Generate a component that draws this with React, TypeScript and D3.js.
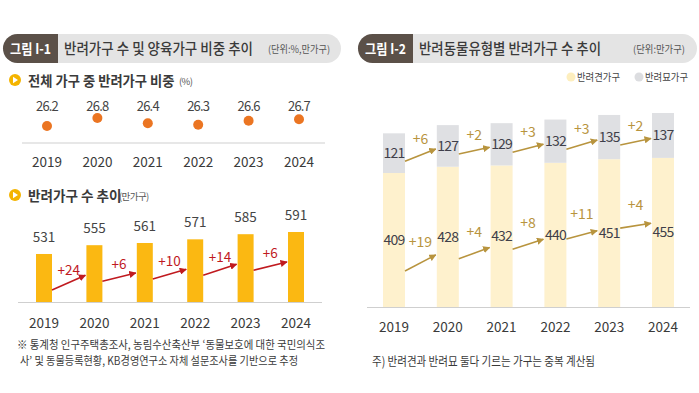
import * as d3 from 'd3';

// Data
const years = ['2019', '2020', '2021', '2022', '2023', '2024'];
const shareValues = [26.2, 26.8, 26.4, 26.3, 26.6, 26.7];
const householdValues = [531, 555, 561, 571, 585, 591];
const dogValues = [409, 428, 432, 440, 451, 455];
const catValues = [121, 127, 129, 132, 135, 137];

const font = "'Noto Sans CJK KR', 'Noto Sans', sans-serif";
const dark = '#5b5048';
const textColor = '#3a3a3a';
const gold = '#b8943e';
const red = '#c01a1f';

const diffs = (arr: number[]) => d3.pairs(arr).map(([a, b]) => '+' + (b - a));

function TitleBar({ x, w, tabW, tag, title, titleLen, unit, unitX, unitLen }: any) {
  const y = 34, h = 29, r = h / 2;
  return (
    <g>
      <rect x={x} y={y} width={w} height={h} rx={r} fill="#e4e4e4" />
      <path d={`M${x + r},${y} H${x + tabW} V${y + h} H${x + r} A${r},${r} 0 0 1 ${x + r},${y} Z`} fill={dark} />
      <text x={x + tabW / 2} y={y + 20} textAnchor="middle" fill="#fff" fontSize={14} fontWeight={700}
        textLength={tabW - 14} lengthAdjust="spacingAndGlyphs">{tag}</text>
      <text x={x + tabW + 6} y={y + 20} fill={textColor} fontSize={14.5} fontWeight={500}
        textLength={titleLen} lengthAdjust="spacingAndGlyphs">{title}</text>
      <text x={unitX} y={y + 19} fill="#555" fontSize={10} textLength={unitLen} lengthAdjust="spacingAndGlyphs">{unit}</text>
    </g>
  );
}

// section header: bullet + bold label (horizontally condensed) + small unit
function Header({ x, y, label, squeeze, unit, unitX }: any) {
  return (
    <g>
      <circle cx={x} cy={y} r={6} fill="#f4b400" />
      <path d={`M${x - 2},${y - 3.2} L${x + 3},${y} L${x - 2},${y + 3.2} Z`} fill="#fff" />
      <g transform={`translate(${x + 13},${y + 5.5}) scale(${squeeze},1)`}>
        <text x={0} y={0} fill={textColor} fontSize={14} fontWeight={700}>{label}</text>
      </g>
      <text x={unitX} y={y + 5} fontSize={9.5} fill="#555" letterSpacing={-0.6}>{unit}</text>
    </g>
  );
}

function LeftPanel() {
  // top: share dots
  const xTop = d3.scalePoint<string>().domain(years).range([47, 299]);
  const yShare = d3.scaleLinear().domain([26.2, 26.8]).range([126, 118]);
  // bottom: household bars
  const xBot = d3.scalePoint<string>().domain(years).range([44, 296]);
  const yHouse = d3.scaleLinear().domain([400, 591]).range([302, 232]);
  const barW = 16;
  const changes = diffs(householdValues);

  return (
    <g>
      <TitleBar x={3} w={338} tabW={55} tag="그림 I-1" title="반려가구 수 및 양육가구 비중 추이" titleLen={189}
        unit="(단위:%,만가구)" unitX={268} unitLen={62} />

      <Header x={15} y={80} label="전체 가구 중 반려가구 비중" squeeze={0.95} unit="(%)" unitX={179} />

      {years.map((yr, i) => (
        <g key={yr}>
          <text x={xTop(yr)} y={111} textAnchor="middle" fill="#444" fontSize={13} letterSpacing={-0.8}>{shareValues[i].toFixed(1)}</text>
          <circle cx={xTop(yr)} cy={yShare(shareValues[i])} r={5} fill="#eb7522" />
          <text x={xTop(yr)} y={167} textAnchor="middle" fill={textColor} fontSize={13.5}>{yr}</text>
        </g>
      ))}
      <line x1={22} x2={325} y1={143} y2={143} stroke="#cfcfcf" strokeWidth={1.2} />

      <Header x={15} y={195} label="반려가구 수 추이" squeeze={0.97} unit="(만가구)" unitX={119} />

      {years.map((yr, i) => {
        const cx = xBot(yr)!;
        const top = yHouse(householdValues[i]);
        return (
          <g key={yr}>
            <rect x={cx - barW / 2} y={top} width={barW} height={302 - top} fill="#fbb812" />
            <text x={cx} y={top - 12} textAnchor="middle" fill="#444" fontSize={13.5}>{householdValues[i]}</text>
            <text x={cx} y={328} textAnchor="middle" fill={textColor} fontSize={13.5}>{yr}</text>
          </g>
        );
      })}
      <line x1={18} x2={322} y1={302.5} y2={302.5} stroke="#cfcfcf" strokeWidth={1.2} />

      {changes.map((c, i) => {
        const x1 = xBot(years[i])! + barW / 2;
        const x2 = xBot(years[i + 1])! - barW / 2 - 1;
        const y1 = yHouse(householdValues[i]) + 36;
        const y2 = yHouse(householdValues[i + 1]) + 30;
        return (
          <g key={i}>
            <line x1={x1} y1={y1} x2={x2} y2={y2} stroke={red} strokeWidth={1.6} markerEnd="url(#arrowRed)" />
            <text x={(x1 + x2) / 2} y={(y1 + y2) / 2 - 8} textAnchor="middle" fill={red} fontSize={13.5}>{c}</text>
          </g>
        );
      })}

      <text x={17} y={349} fill={textColor} fontSize={11.5} textLength={308} lengthAdjust="spacingAndGlyphs">※ 통계청 인구주택총조사, 농림수산축산부 ‘동물보호에 대한 국민의식조</text>
      <text x={20} y={365} fill={textColor} fontSize={11.5} textLength={278} lengthAdjust="spacingAndGlyphs">사’ 및 동물등록현황, KB경영연구소 자체 설문조사를 기반으로 추정</text>
    </g>
  );
}

function RightPanel() {
  const x = d3.scalePoint<string>().domain(years).range([394, 663]);
  const y = d3.scaleLinear().domain([0, 592]).range([307, 113]);
  const barW = 22;
  const catChanges = diffs(catValues);
  const dogChanges = diffs(dogValues);

  const dogTop = dogValues.map(v => y(v));
  const catTop = dogValues.map((v, i) => y(v + catValues[i]));
  const dogMid = dogTop.map(t => (t + 307) / 2);
  const catMid = catTop.map((t, i) => (t + dogTop[i]) / 2);

  return (
    <g>
      <TitleBar x={358} w={339} tabW={55} tag="그림 I-2" title="반려동물유형별 반려가구 수 추이" titleLen={182}
        unit="(단위:만가구)" unitX={633} unitLen={52} />

      <circle cx={571} cy={77} r={4.5} fill="#fdeebe" />
      <text x={577} y={81} fill="#444" fontSize={10.5} textLength={43} lengthAdjust="spacingAndGlyphs">반려견가구</text>
      <circle cx={639} cy={77} r={4.5} fill="#dcdde0" />
      <text x={645} y={81} fill="#444" fontSize={10.5} textLength={43} lengthAdjust="spacingAndGlyphs">반려묘가구</text>

      {years.map((yr, i) => {
        const cx = x(yr)!;
        return (
          <g key={yr}>
            <rect x={cx - barW / 2} y={dogTop[i]} width={barW} height={307 - dogTop[i]} fill="#fef1cd" />
            <rect x={cx - barW / 2} y={catTop[i]} width={barW} height={dogTop[i] - catTop[i]} fill="#dfe0e3" />
            <text x={cx} y={catMid[i] + 5} textAnchor="middle" fill="#3f3f4a" fontSize={14} letterSpacing={-0.8}>{catValues[i]}</text>
            <text x={cx} y={dogMid[i] + 5} textAnchor="middle" fill="#3f3f4a" fontSize={14} letterSpacing={-0.8}>{dogValues[i]}</text>
            <text x={cx} y={332} textAnchor="middle" fill={textColor} fontSize={13.5}>{yr}</text>
          </g>
        );
      })}
      <line x1={367} x2={690} y1={307.5} y2={307.5} stroke="#cfcfcf" strokeWidth={1.2} />

      {catChanges.map((c, i) => {
        const x1 = x(years[i])! + barW / 2;
        const x2 = x(years[i + 1])! - barW / 2 - 1;
        const y1 = catMid[i] + 8;
        const y2 = catMid[i + 1] + 3;
        return (
          <g key={'c' + i}>
            <line x1={x1} y1={y1} x2={x2} y2={y2} stroke={gold} strokeWidth={1.6} markerEnd="url(#arrowGold)" />
            <text x={(x1 + x2) / 2} y={(y1 + y2) / 2 - 11} textAnchor="middle" fill={gold} fontSize={14}>{c}</text>
          </g>
        );
      })}
      {dogChanges.map((c, i) => {
        const x1 = x(years[i])! + barW / 2;
        const x2 = x(years[i + 1])! - barW / 2 - 1;
        const y1 = dogMid[i] + 31 - 9 * i;
        const y2 = dogMid[i + 1] + 18 - 6.8 * i;
        return (
          <g key={'d' + i}>
            <line x1={x1} y1={y1} x2={x2} y2={y2} stroke={gold} strokeWidth={1.6} markerEnd="url(#arrowGold)" />
            <text x={(x1 + x2) / 2} y={(y1 + y2) / 2 - 16} textAnchor="middle" fill={gold} fontSize={14}>{c}</text>
          </g>
        );
      })}

      <text x={372} y={366} fill={textColor} fontSize={12.5} textLength={223} lengthAdjust="spacingAndGlyphs">주) 반려견과 반려묘 둘다 기르는 가구는 중복 계산됨</text>
    </g>
  );
}

export default function App() {
  return (
    <div style={{ position: 'absolute', left: 0, top: 0 }}>
      <svg width={699} height={393} style={{ display: 'block', fontFamily: font, background: '#fff' }}>
        <defs>
          <marker id="arrowRed" viewBox="0 0 10 10" refX={9} refY={5} markerWidth={4.5} markerHeight={4.5} orient="auto" markerUnits="strokeWidth">
            <path d="M0,0 L10,5 L0,10 Z" fill={red} />
          </marker>
          <marker id="arrowGold" viewBox="0 0 10 10" refX={9} refY={5} markerWidth={4.5} markerHeight={4.5} orient="auto" markerUnits="strokeWidth">
            <path d="M0,0 L10,5 L0,10 Z" fill={gold} />
          </marker>
        </defs>
        <LeftPanel />
        <RightPanel />
      </svg>
    </div>
  );
}
